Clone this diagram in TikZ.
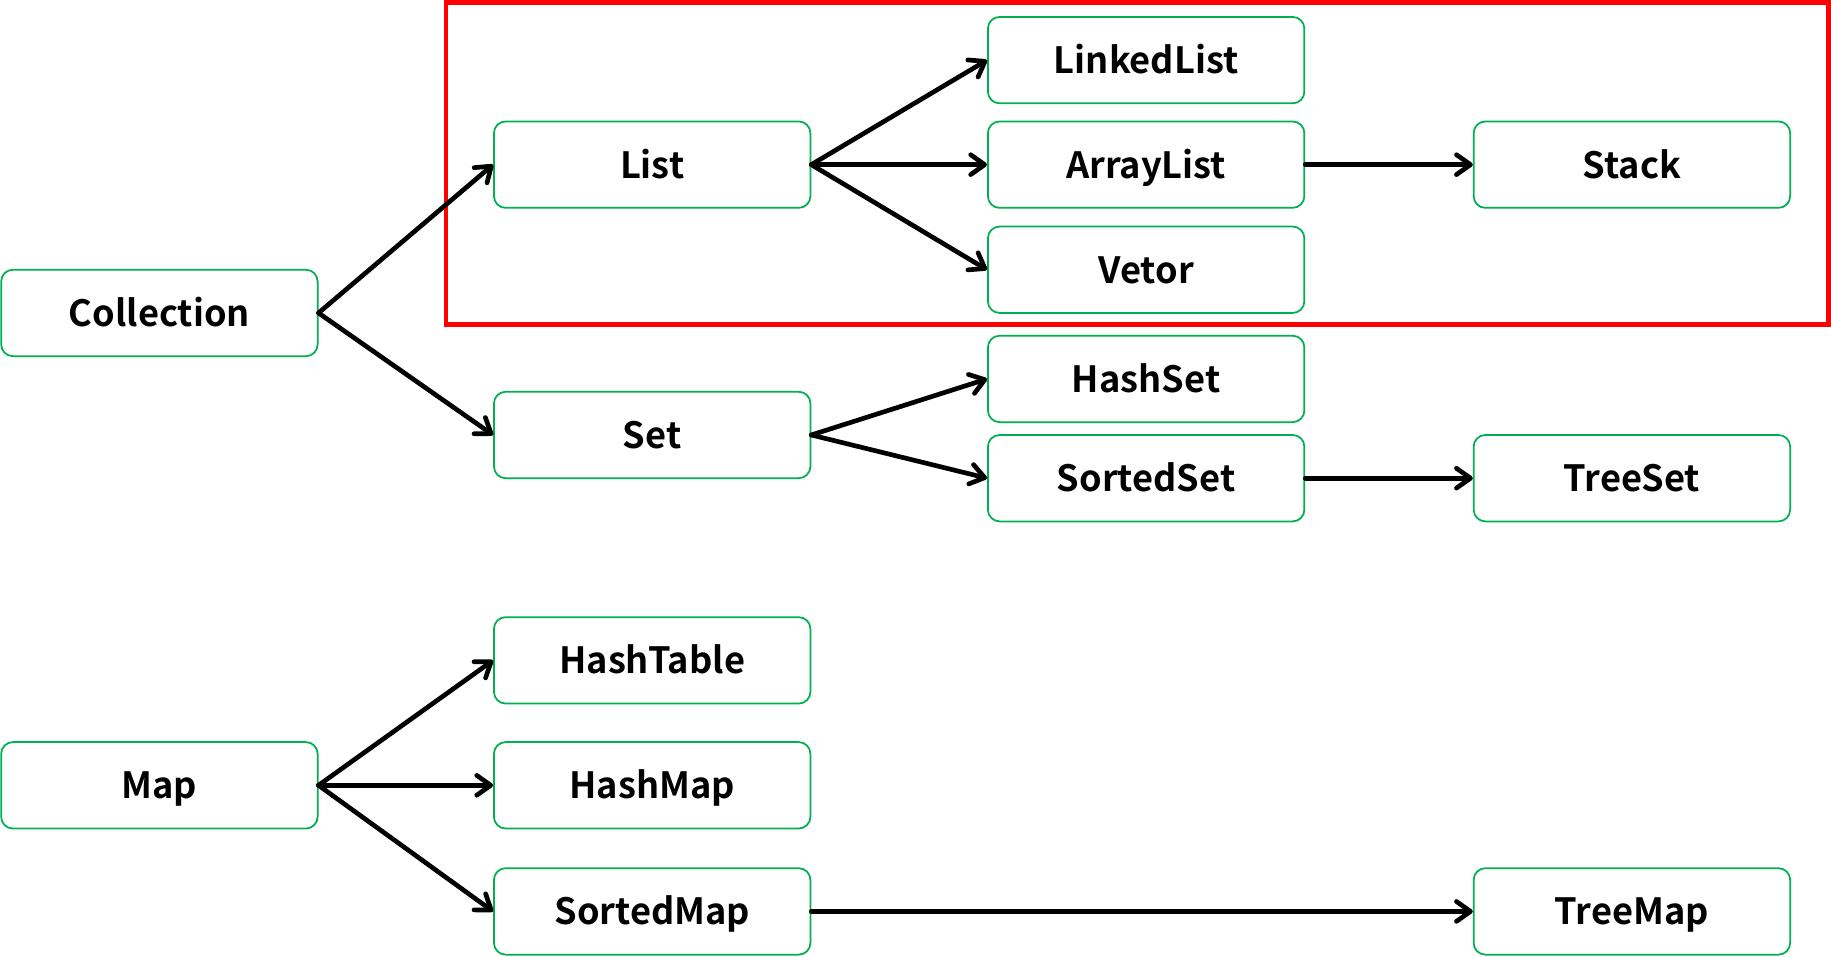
\documentclass[tikz,border=0pt]{standalone}
\usepackage{fontspec}
\newfontfamily\krfont{Noto Sans CJK KR}[BoldFont={* Bold}]
\usetikzlibrary{arrows.meta}
\definecolor{boxgreen}{RGB}{0,176,80}
\tikzset{
    classbox/.style={draw=boxgreen, line width=1.5pt, rounded corners=10pt,
        minimum width=271pt, minimum height=74pt, inner sep=0pt,
        text height=23pt, text depth=0pt,
        font=\krfont\bfseries\fontsize{31}{31}\selectfont},
    inherit/.style={draw=black, line width=4pt, line cap=round,
        -{Straight Barb[length=12pt,width=17pt,round]}}
}
\begin{document}
\begin{tikzpicture}[x=1pt,y=-1pt]
        \useasboundingbox (0,0) rectangle (1568,819);
        \pgfmathsetmacro{\colA}{136.5}
        \pgfmathsetmacro{\colB}{558.5}
        \pgfmathsetmacro{\colC}{981.5}
        \pgfmathsetmacro{\colD}{1397.5}
        
        \draw[red, line width=4pt] (382,2) rectangle (1566,278);
        
        \node[classbox] (collection) at (\colA,268) {Collection};
        \node[classbox] (list) at (\colB,141) {List};
        \node[classbox] (set) at (\colB,372.5) {Set};
        \node[classbox] (linkedlist) at (\colC,51.5) {LinkedList};
        \node[classbox] (arraylist) at (\colC,141) {ArrayList};
        \node[classbox] (vetor) at (\colC,231) {Vetor};
        \node[classbox] (hashset) at (\colC,324.5) {HashSet};
        \node[classbox] (sortedset) at (\colC,409.5) {SortedSet};
        \node[classbox] (stack) at (\colD,141) {Stack};
        \node[classbox] (treeset) at (\colD,409.5) {TreeSet};
        
        \node[classbox] (map) at (\colA,672.5) {Map};
        \node[classbox] (hashtable) at (\colB,565.5) {HashTable};
        \node[classbox] (hashmap) at (\colB,672.5) {HashMap};
        \node[classbox] (sortedmap) at (\colB,780.5) {SortedMap};
        \node[classbox] (treemap) at (\colD,780.5) {TreeMap};
        
        \draw[inherit] (collection.east) -- (list.west); \draw[inherit] (collection.east) -- (set.west);
        \draw[inherit] (list.east) -- (linkedlist.west); \draw[inherit] (list.east) -- (arraylist.west);
        \draw[inherit] (list.east) -- (vetor.west);
        \draw[inherit] (arraylist.east) -- (stack.west);
        \draw[inherit] (set.east) -- (hashset.west); \draw[inherit] (set.east) -- (sortedset.west);
        \draw[inherit] (sortedset.east) -- (treeset.west);
        
        \draw[inherit] (map.east) -- (hashtable.west); \draw[inherit] (map.east) -- (hashmap.west);
        \draw[inherit] (map.east) -- (sortedmap.west);
        \draw[inherit] (sortedmap.east) -- (treemap.west);
        
    \end{tikzpicture}
\end{document}
